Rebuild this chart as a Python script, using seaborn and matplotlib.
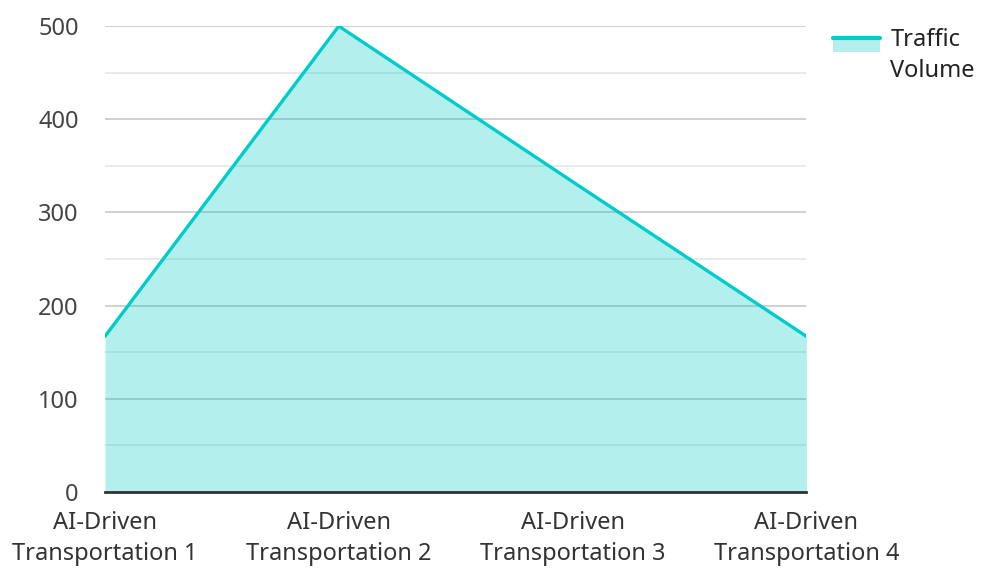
import matplotlib
matplotlib.use("Agg")
import matplotlib.pyplot as plt
import numpy as np
import pandas as pd
import seaborn as sns
from matplotlib.legend_handler import HandlerBase
from matplotlib.patches import Rectangle
from matplotlib.lines import Line2D

categories = ["AI-Driven\nTransportation 1", "AI-Driven\nTransportation 2",
              "AI-Driven\nTransportation 3", "AI-Driven\nTransportation 4"]
traffic_volume = [167, 500, 333, 167]
series_name = "Traffic\nVolume"

line_color = "#00cccb"
fill_color = "#00cac6"


class AreaHandler(HandlerBase):
    # line on top edge of a light filled box, like the area legend key
    # (raised so it sits beside the first line of the two-line label)
    def create_artists(self, legend, orig_handle, xdescent, ydescent,
                       width, height, fontsize, trans):
        y0 = -ydescent + 8
        rect = Rectangle((-xdescent, y0), width, height,
                         facecolor=fill_color, alpha=0.3, transform=trans,
                         edgecolor="none")
        line = Line2D([-xdescent, -xdescent + width], [y0 + height, y0 + height],
                      color=line_color, lw=3, transform=trans)
        return [rect, line]


sns.set_theme(style="white")
plt.rcParams["font.family"] = ["Noto Sans", "DejaVu Sans"]

df = pd.DataFrame({"x": np.arange(len(categories)), "y": traffic_volume})

fig, ax = plt.subplots(figsize=(9.81, 5.68), dpi=100)
fig.subplots_adjust(left=0.107, right=0.822, top=0.954, bottom=0.134)

ax.fill_between(df["x"], df["y"], 0, color=fill_color, alpha=0.3, lw=0, zorder=2)
sns.lineplot(data=df, x="x", y="y", ax=ax, color=line_color, lw=2.4, zorder=3)

ax.set_xlim(0, len(categories) - 1)
ax.set_ylim(0, 500)
ax.set_xticks(df["x"])
ax.set_xticklabels(categories, fontsize=17, color="#333333", linespacing=1.35)
ax.set_yticks(np.arange(0, 501, 100))
ax.set_yticks(np.arange(50, 500, 100), minor=True)
ax.tick_params(axis="y", labelsize=17, colors="#444444", length=0, pad=19)
ax.tick_params(axis="x", length=0, pad=14)
ax.set_xlabel("")
ax.set_ylabel("")

ax.grid(axis="y", which="major", color="#c8c8c8", lw=1.2, zorder=1)
ax.grid(axis="y", which="minor", color="#e6e6e6", lw=1.2, zorder=1)
ax.set_axisbelow(True)

for s in ["left", "right", "top"]:
    ax.spines[s].set_visible(False)
ax.spines["bottom"].set_color("#333333")
ax.spines["bottom"].set_linewidth(2)
ax.spines["bottom"].set_zorder(4)

leg = ax.legend([object()], [series_name], handler_map={object: AreaHandler()},
                loc="upper left", bbox_to_anchor=(1.007, 1.042), frameon=False,
                fontsize=17, handlelength=2.0, handleheight=0.55, handletextpad=0.45,
                labelcolor="#222222")
for t in leg.get_texts():
    t.set_linespacing(1.4)

fig.savefig("out.png", dpi=100)
